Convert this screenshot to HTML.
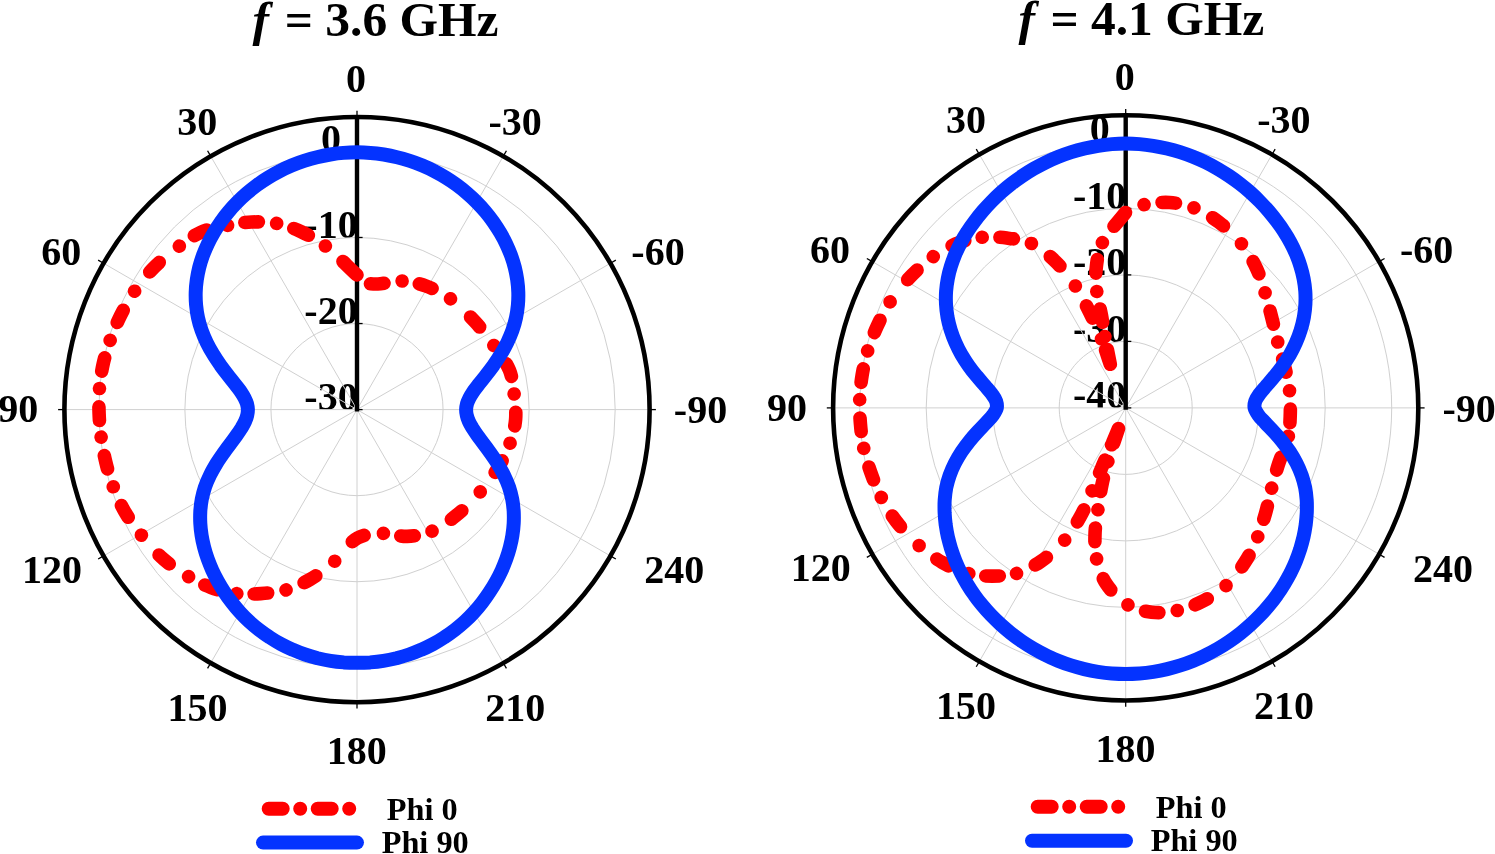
<!DOCTYPE html>
<html><head><meta charset="utf-8"><title>Radiation patterns</title>
<style>
html,body{margin:0;padding:0;background:#fff;}
body{width:1495px;height:854px;overflow:hidden;}
svg{display:block;font-family:"Liberation Serif",serif;font-weight:bold;font-size:40px;fill:#000;}
.t{font-size:49.5px}
.lg{font-size:32.3px}
</style></head><body>
<svg width="1495" height="854" viewBox="0 0 1495 854">
<rect width="1495" height="854" fill="#fff"/>
<text class="t" y="35.6"><tspan x="252.5" font-style="italic">f</tspan><tspan x="498.6" text-anchor="end"> = 3.6 GHz</tspan></text>
<text class="t" y="35.2"><tspan x="1018.5" font-style="italic">f</tspan><tspan x="1264.2" text-anchor="end"> = 4.1 GHz</tspan></text>
<g text-anchor="middle">
<text x="331.0" y="409.9">-30</text>
<text x="331.0" y="323.8">-20</text>
<text x="331.0" y="237.8">-10</text>
<text x="331.0" y="151.7">0</text>
</g>
<g fill="none" stroke="#d0d0d0" stroke-width="1">
<circle cx="357.0" cy="409.6" r="86.06"/>
<circle cx="357.0" cy="409.6" r="172.12"/>
<circle cx="357.0" cy="409.6" r="258.18"/>
<line x1="357.0" y1="409.6" x2="357.00" y2="117.00"/>
<line x1="357.0" y1="409.6" x2="503.30" y2="156.20"/>
<line x1="357.0" y1="409.6" x2="610.40" y2="263.30"/>
<line x1="357.0" y1="409.6" x2="649.60" y2="409.60"/>
<line x1="357.0" y1="409.6" x2="610.40" y2="555.90"/>
<line x1="357.0" y1="409.6" x2="503.30" y2="663.00"/>
<line x1="357.0" y1="409.6" x2="357.00" y2="702.20"/>
<line x1="357.0" y1="409.6" x2="210.70" y2="663.00"/>
<line x1="357.0" y1="409.6" x2="103.60" y2="555.90"/>
<line x1="357.0" y1="409.6" x2="64.40" y2="409.60"/>
<line x1="357.0" y1="409.6" x2="103.60" y2="263.30"/>
<line x1="357.0" y1="409.6" x2="210.70" y2="156.20"/>
</g>
<g stroke="#000" stroke-width="1.3">
<line x1="357.00" y1="117.00" x2="357.00" y2="110.70"/>
<line x1="503.30" y1="156.20" x2="506.45" y2="150.75"/>
<line x1="610.40" y1="263.30" x2="615.85" y2="260.15"/>
<line x1="649.60" y1="409.60" x2="655.90" y2="409.60"/>
<line x1="610.40" y1="555.90" x2="615.85" y2="559.05"/>
<line x1="503.30" y1="663.00" x2="506.45" y2="668.45"/>
<line x1="357.00" y1="702.20" x2="357.00" y2="708.50"/>
<line x1="210.70" y1="663.00" x2="207.55" y2="668.45"/>
<line x1="103.60" y1="555.90" x2="98.15" y2="559.05"/>
<line x1="64.40" y1="409.60" x2="58.10" y2="409.60"/>
<line x1="103.60" y1="263.30" x2="98.15" y2="260.15"/>
<line x1="210.70" y1="156.20" x2="207.55" y2="150.75"/>
<line x1="357.0" y1="409.60" x2="362.6" y2="409.60"/>
<line x1="357.0" y1="323.54" x2="362.6" y2="323.54"/>
<line x1="357.0" y1="237.48" x2="362.6" y2="237.48"/>
<line x1="357.0" y1="151.42" x2="362.6" y2="151.42"/>
</g>
<circle cx="357.0" cy="409.6" r="292.6" fill="none" stroke="#000" stroke-width="4.6"/>
<line x1="357.0" y1="411.4" x2="357.0" y2="117.0" stroke="#000" stroke-width="4.4"/>
<g text-anchor="middle">
<text x="356.1" y="91.9">0</text>
<text x="197.3" y="134.6">30</text>
<text x="515.1" y="134.6">-30</text>
<text x="61.2" y="264.8">60</text>
<text x="658.0" y="264.8">-60</text>
<text x="18.2" y="422.4">90</text>
<text x="700.5" y="423.4">-90</text>
<text x="52.0" y="583.1">120</text>
<text x="674.3" y="583.4">240</text>
<text x="197.4" y="721.0">150</text>
<text x="515.2" y="721.0">210</text>
<text x="356.8" y="764.1">180</text>
</g>
<path d="M357.0 275.0C346.5 265.3 335.6 253.6 325.4 246.0C317.1 239.9 309.5 235.5 301.2 231.7C293.2 228.0 285.0 225.0 276.7 223.4C268.5 221.8 259.9 221.7 251.7 222.0C243.6 222.3 235.8 223.8 227.6 225.4C218.8 227.2 208.7 228.8 200.5 232.4C192.7 235.8 186.6 240.8 179.4 246.1C171.3 252.1 162.0 259.4 154.5 267.0C147.1 274.4 140.5 282.7 134.7 291.1C129.1 299.2 124.4 307.8 120.2 316.2C116.3 324.2 113.1 332.1 110.2 340.2C107.4 348.1 104.9 356.2 103.1 364.3C101.3 372.3 100.2 380.3 99.5 388.4C98.8 396.7 98.8 405.3 99.1 413.5C99.4 421.5 100.0 429.1 101.1 437.0C102.2 445.3 103.8 453.8 105.8 462.1C107.8 470.4 110.1 478.5 113.2 486.6C116.4 494.9 120.0 503.4 124.6 511.3C129.3 519.5 135.0 527.2 141.3 535.0C148.0 543.3 155.7 552.4 163.8 559.4C171.5 566.1 180.2 571.7 188.4 576.5C195.9 580.9 203.1 584.7 211.0 587.5C219.1 590.4 228.1 592.6 236.6 593.6C244.7 594.6 252.6 594.2 260.7 593.6C269.0 593.0 277.7 592.3 285.8 590.0C294.1 587.6 302.1 584.0 309.9 579.5C318.3 574.6 326.7 568.2 334.5 561.4C342.6 554.4 348.8 542.6 357.5 538.0C365.2 533.9 374.7 533.6 383.1 533.4C391.2 533.2 399.2 536.7 407.2 536.4C415.4 536.1 423.8 534.5 431.7 531.3C440.3 527.8 448.6 521.6 456.4 515.3C464.7 508.7 472.9 500.4 480.0 492.2C486.9 484.3 493.4 475.6 498.5 467.1C503.2 459.4 507.0 451.6 509.9 443.6C512.7 435.8 514.9 427.7 515.6 419.5C516.3 411.3 515.2 402.6 514.2 394.4C513.2 386.2 512.6 378.1 509.5 370.3C506.2 361.9 499.7 353.8 494.1 345.9C488.4 337.8 482.4 329.8 475.4 322.2C468.0 314.2 459.5 305.3 450.9 299.1C443.1 293.5 434.6 289.1 426.3 286.1C418.5 283.3 410.6 281.4 402.6 281.0C394.5 280.6 384.6 283.7 377.8 284.0C373.2 284.2 369.9 283.7 366.0 283.5" fill="none" stroke="#ff0000" stroke-width="13.6" stroke-linecap="round" stroke-linejoin="round" stroke-dasharray="19.5 23.42 0.01 20.15 16.0 17.93 0.01 18.28 13.6 17.57 0.01 21.24 13.6 18.42 0.01 25.73 13.6 24.43 0.01 22.2 13.6 19.21 0.01 18.33 13.6 17.59 0.01 18.31 13.6 16.8 0.01 18.74 13.6 18.81 0.01 20.42 13.6 22.22 0.01 26.42 13.6 23.2 0.01 18.36 13.6 19.57 0.01 17.33 13.6 18.6 0.01 19.54 13.6 23.79 0.01 26.16 13.6 19.45 0.01 17.53 13.6 18.35 0.01 22.72 13.6 26.27 0.01 24.41 13.6 19.36 0.01 18.02 13.6 18.39 0.01 17.82 13.6 22.13 0.01 23.4 13.6 26.93 0.01 21.1 13.6 17.53 0.01 18.21 13.6 9999"/>
<path d="M357.0 152.3C352.5 152.3 348.0 152.5 343.5 152.9C339.1 153.2 334.6 153.8 330.2 154.5C325.8 155.2 321.4 156.1 317.0 157.2C312.7 158.2 308.4 159.5 304.1 160.9C299.9 162.2 295.7 163.8 291.6 165.5C287.5 167.2 283.5 169.1 279.5 171.2C275.6 173.2 271.7 175.4 268.0 177.7C264.2 180.0 260.6 182.5 257.0 185.1C253.5 187.7 250.1 190.4 246.8 193.3C243.5 196.1 240.3 199.1 237.3 202.2C234.2 205.3 231.3 208.5 228.6 211.8C225.8 215.1 223.2 218.5 220.7 222.0C218.3 225.5 215.9 229.1 213.8 232.7C211.6 236.4 209.6 240.1 207.8 243.9C206.0 247.7 204.4 251.6 202.9 255.5C201.5 259.5 200.2 263.5 199.2 267.5C198.2 271.6 197.4 275.7 196.8 279.8C196.2 284.0 195.8 288.2 195.7 292.4C195.6 296.6 195.7 300.9 196.1 305.1C196.5 309.3 197.1 313.6 198.0 317.8C198.9 322.1 200.1 326.3 201.6 330.4C203.1 334.6 204.9 338.7 206.8 342.7C208.8 346.8 211.0 350.7 213.3 354.4C215.6 358.2 218.1 361.8 220.5 365.3C222.9 368.6 225.4 371.9 227.8 375.0C230.1 378.0 232.5 380.8 234.6 383.6C236.6 386.2 238.7 388.7 240.4 391.1C241.9 393.4 243.4 395.6 244.5 397.8C245.5 399.8 246.4 401.8 247.0 403.8C247.5 405.7 247.8 407.7 247.9 409.6C247.9 411.5 247.7 413.4 247.2 415.4C246.8 417.4 246.0 419.4 245.1 421.4C244.2 423.5 242.9 425.7 241.6 427.9C240.1 430.3 238.5 432.7 236.7 435.2C234.8 437.9 232.7 440.6 230.6 443.5C228.3 446.5 225.9 449.7 223.6 453.0C221.2 456.4 218.7 459.9 216.5 463.5C214.3 467.2 212.0 471.1 210.1 475.0C208.2 478.9 206.4 483.0 205.0 487.0C203.7 491.0 202.6 495.1 201.8 499.2C201.0 503.2 200.6 507.3 200.3 511.3C200.1 515.4 200.1 519.4 200.3 523.4C200.5 527.5 201.0 531.5 201.6 535.4C202.2 539.4 203.1 543.4 204.1 547.3C205.1 551.2 206.3 555.1 207.7 558.9C209.1 562.7 210.6 566.5 212.3 570.3C214.0 574.0 215.9 577.7 217.9 581.4C219.9 585.0 222.1 588.6 224.4 592.1C226.7 595.7 229.2 599.1 231.8 602.4C234.4 605.8 237.1 609.1 240.0 612.2C242.9 615.4 245.9 618.4 249.1 621.4C252.3 624.3 255.6 627.1 259.0 629.8C262.4 632.4 265.9 635.0 269.6 637.3C273.2 639.7 277.0 642.0 280.8 644.0C284.7 646.1 288.6 648.0 292.7 649.7C296.7 651.5 300.8 653.1 305.0 654.5C309.1 655.9 313.4 657.1 317.6 658.2C321.9 659.2 326.2 660.1 330.6 660.8C335.0 661.5 339.4 662.0 343.8 662.4C348.2 662.7 352.6 662.8 357.0 662.8C361.4 662.8 365.8 662.7 370.2 662.4C374.6 662.0 379.0 661.5 383.4 660.8C387.8 660.1 392.1 659.2 396.4 658.2C400.6 657.1 404.9 655.9 409.0 654.5C413.2 653.1 417.3 651.5 421.3 649.7C425.4 648.0 429.3 646.1 433.2 644.0C437.0 642.0 440.8 639.7 444.4 637.3C448.1 635.0 451.6 632.4 455.0 629.8C458.4 627.1 461.7 624.3 464.9 621.4C468.1 618.4 471.1 615.4 474.0 612.2C476.9 609.1 479.6 605.8 482.2 602.4C484.8 599.1 487.3 595.7 489.6 592.1C491.9 588.6 494.1 585.0 496.1 581.4C498.1 577.7 500.0 574.0 501.7 570.3C503.4 566.5 504.9 562.7 506.3 558.9C507.7 555.1 508.9 551.2 509.9 547.3C510.9 543.4 511.8 539.4 512.4 535.4C513.0 531.5 513.5 527.5 513.7 523.4C513.9 519.4 513.9 515.4 513.7 511.3C513.4 507.3 513.0 503.2 512.2 499.2C511.4 495.1 510.3 491.0 509.0 487.0C507.6 483.0 505.8 478.9 503.9 475.0C502.0 471.1 499.7 467.2 497.5 463.5C495.3 459.9 492.8 456.4 490.4 453.0C488.1 449.7 485.7 446.5 483.4 443.5C481.3 440.6 479.2 437.9 477.3 435.2C475.5 432.7 473.9 430.3 472.4 427.9C471.1 425.7 469.8 423.5 468.9 421.4C468.0 419.4 467.2 417.4 466.8 415.4C466.3 413.4 466.1 411.5 466.1 409.6C466.2 407.7 466.5 405.7 467.0 403.8C467.6 401.8 468.5 399.8 469.5 397.8C470.6 395.6 472.1 393.4 473.6 391.1C475.3 388.7 477.4 386.2 479.4 383.6C481.5 380.8 483.9 378.0 486.2 375.0C488.6 371.9 491.1 368.6 493.5 365.3C495.9 361.8 498.4 358.2 500.7 354.4C503.0 350.7 505.2 346.8 507.2 342.7C509.1 338.7 510.9 334.6 512.4 330.4C513.9 326.3 515.1 322.1 516.0 317.8C516.9 313.6 517.5 309.3 517.9 305.1C518.3 300.9 518.4 296.6 518.3 292.4C518.2 288.2 517.8 284.0 517.2 279.8C516.6 275.7 515.8 271.6 514.8 267.5C513.8 263.5 512.5 259.5 511.1 255.5C509.6 251.6 508.0 247.7 506.2 243.9C504.4 240.1 502.4 236.4 500.2 232.7C498.1 229.1 495.7 225.5 493.3 222.0C490.8 218.5 488.2 215.1 485.4 211.8C482.7 208.5 479.8 205.3 476.7 202.2C473.7 199.1 470.5 196.1 467.2 193.3C463.9 190.4 460.5 187.7 457.0 185.1C453.4 182.5 449.8 180.0 446.0 177.7C442.3 175.4 438.4 173.2 434.5 171.2C430.5 169.1 426.5 167.2 422.4 165.5C418.3 163.8 414.1 162.2 409.9 160.9C405.6 159.5 401.3 158.2 397.0 157.2C392.6 156.1 388.2 155.2 383.8 154.5C379.4 153.8 374.9 153.2 370.5 152.9C366.0 152.5 361.5 152.3 357.0 152.3Z" fill="none" stroke="#0433ff" stroke-width="14" stroke-linejoin="round"/>
<g text-anchor="middle">
<text x="1099.7" y="408.2">-40</text>
<text x="1099.7" y="341.7">-30</text>
<text x="1099.7" y="275.2">-20</text>
<text x="1099.7" y="208.7">-10</text>
<text x="1099.7" y="142.2">0</text>
</g>
<g fill="none" stroke="#d0d0d0" stroke-width="1">
<circle cx="1125.7" cy="407.9" r="66.50"/>
<circle cx="1125.7" cy="407.9" r="133.00"/>
<circle cx="1125.7" cy="407.9" r="199.50"/>
<circle cx="1125.7" cy="407.9" r="266.00"/>
<line x1="1125.7" y1="407.9" x2="1125.70" y2="115.30"/>
<line x1="1125.7" y1="407.9" x2="1272.00" y2="154.50"/>
<line x1="1125.7" y1="407.9" x2="1379.10" y2="261.60"/>
<line x1="1125.7" y1="407.9" x2="1418.30" y2="407.90"/>
<line x1="1125.7" y1="407.9" x2="1379.10" y2="554.20"/>
<line x1="1125.7" y1="407.9" x2="1272.00" y2="661.30"/>
<line x1="1125.7" y1="407.9" x2="1125.70" y2="700.50"/>
<line x1="1125.7" y1="407.9" x2="979.40" y2="661.30"/>
<line x1="1125.7" y1="407.9" x2="872.30" y2="554.20"/>
<line x1="1125.7" y1="407.9" x2="833.10" y2="407.90"/>
<line x1="1125.7" y1="407.9" x2="872.30" y2="261.60"/>
<line x1="1125.7" y1="407.9" x2="979.40" y2="154.50"/>
</g>
<g stroke="#000" stroke-width="1.3">
<line x1="1125.70" y1="115.30" x2="1125.70" y2="109.00"/>
<line x1="1272.00" y1="154.50" x2="1275.15" y2="149.05"/>
<line x1="1379.10" y1="261.60" x2="1384.55" y2="258.45"/>
<line x1="1418.30" y1="407.90" x2="1424.60" y2="407.90"/>
<line x1="1379.10" y1="554.20" x2="1384.55" y2="557.35"/>
<line x1="1272.00" y1="661.30" x2="1275.15" y2="666.75"/>
<line x1="1125.70" y1="700.50" x2="1125.70" y2="706.80"/>
<line x1="979.40" y1="661.30" x2="976.25" y2="666.75"/>
<line x1="872.30" y1="554.20" x2="866.85" y2="557.35"/>
<line x1="833.10" y1="407.90" x2="826.80" y2="407.90"/>
<line x1="872.30" y1="261.60" x2="866.85" y2="258.45"/>
<line x1="979.40" y1="154.50" x2="976.25" y2="149.05"/>
<line x1="1125.7" y1="407.90" x2="1131.3" y2="407.90"/>
<line x1="1125.7" y1="341.40" x2="1131.3" y2="341.40"/>
<line x1="1125.7" y1="274.90" x2="1131.3" y2="274.90"/>
<line x1="1125.7" y1="208.40" x2="1131.3" y2="208.40"/>
<line x1="1125.7" y1="141.90" x2="1131.3" y2="141.90"/>
</g>
<circle cx="1125.7" cy="407.9" r="292.6" fill="none" stroke="#000" stroke-width="4.6"/>
<line x1="1125.7" y1="409.7" x2="1125.7" y2="115.3" stroke="#000" stroke-width="4.4"/>
<g text-anchor="middle">
<text x="1124.8" y="90.2">0</text>
<text x="966.0" y="132.9">30</text>
<text x="1283.8" y="132.9">-30</text>
<text x="829.9" y="263.1">60</text>
<text x="1426.7" y="263.1">-60</text>
<text x="786.9" y="420.7">90</text>
<text x="1469.2" y="421.7">-90</text>
<text x="820.7" y="581.4">120</text>
<text x="1443.0" y="581.7">240</text>
<text x="966.1" y="719.3">150</text>
<text x="1283.9" y="719.3">210</text>
<text x="1125.5" y="762.4">180</text>
</g>
<path d="M1125.5 212.5C1117.8 222.5 1107.2 232.7 1102.4 242.6C1098.5 250.6 1097.3 258.2 1096.4 266.3C1095.4 274.5 1095.9 283.2 1096.8 291.4C1097.7 299.6 1100.1 307.7 1101.5 315.5C1102.8 322.7 1103.6 329.0 1104.9 336.5C1106.4 345.1 1108.5 355.0 1110.3 364.3C1107.4 355.9 1104.9 347.5 1101.5 339.0C1098.0 330.1 1093.8 320.8 1089.5 312.0C1085.1 303.2 1081.0 294.3 1075.4 286.0C1069.6 277.4 1062.8 268.5 1055.3 261.3C1048.1 254.4 1039.9 247.4 1031.5 243.5C1023.7 239.9 1015.1 239.0 1006.8 238.0C998.7 237.0 990.4 236.5 982.3 237.3C974.2 238.1 966.3 239.9 958.4 242.9C949.9 246.1 941.1 251.2 933.4 256.5C925.8 261.8 919.1 267.8 912.3 274.8C904.7 282.6 896.2 292.6 890.2 301.7C884.8 309.8 881.0 317.9 877.2 326.2C873.5 334.3 870.2 342.4 867.7 350.7C865.2 358.8 863.4 367.2 862.1 375.4C860.8 383.4 860.0 391.3 859.7 399.4C859.4 407.7 859.8 416.3 860.5 424.5C861.2 432.5 862.0 440.2 863.7 448.1C865.5 456.4 868.2 465.0 871.1 473.2C874.0 481.4 877.1 489.3 881.2 497.2C885.4 505.4 890.2 513.6 896.2 521.3C902.6 529.7 910.9 538.4 918.9 545.4C926.4 552.0 934.1 557.8 942.4 562.5C950.6 567.1 959.8 571.3 968.5 573.5C976.4 575.6 984.3 576.1 992.2 576.1C1000.2 576.1 1008.4 575.8 1016.2 573.5C1024.5 571.1 1032.9 566.7 1040.7 561.5C1049.1 555.9 1057.7 548.1 1064.4 540.4C1070.8 533.0 1075.9 524.6 1080.5 516.3C1085.0 508.2 1088.3 499.5 1091.9 491.2C1095.4 483.1 1098.7 474.8 1102.0 467.0C1105.2 459.5 1108.5 452.0 1111.4 445.2C1113.9 439.3 1116.1 434.1 1118.5 428.5C1115.0 439.3 1110.9 451.0 1108.0 461.0C1105.6 469.4 1103.7 476.5 1102.0 484.5C1100.3 492.6 1099.2 501.0 1098.0 509.3C1096.8 517.6 1095.2 526.1 1095.0 534.4C1094.8 542.5 1094.8 550.4 1096.5 558.4C1098.4 567.0 1101.4 576.5 1106.4 584.1C1111.6 592.0 1119.6 599.9 1127.5 604.6C1134.8 609.0 1143.4 611.2 1151.6 612.2C1159.8 613.2 1168.5 612.3 1176.7 610.6C1184.9 608.9 1192.9 606.1 1200.8 602.2C1209.3 598.0 1218.3 592.6 1225.6 586.0C1233.1 579.2 1239.8 570.2 1245.2 561.8C1250.3 553.9 1254.1 545.6 1257.5 537.4C1260.8 529.5 1263.2 521.4 1265.5 513.3C1267.8 505.2 1269.3 497.0 1271.5 488.8C1273.7 480.6 1275.8 472.5 1278.5 464.1C1281.3 455.2 1286.3 445.5 1288.2 437.0C1289.8 429.8 1289.9 423.7 1290.2 416.5C1290.5 408.6 1290.5 399.7 1289.6 391.4C1288.7 383.0 1286.6 374.5 1284.6 366.3C1282.7 358.3 1280.0 350.7 1277.9 342.7C1275.8 334.6 1274.0 326.4 1271.9 318.2C1269.8 310.0 1267.8 301.7 1265.3 293.5C1262.7 285.1 1260.3 276.4 1256.5 268.3C1252.6 260.0 1247.9 251.8 1241.9 244.3C1235.5 236.3 1227.0 228.4 1218.8 222.2C1211.2 216.4 1203.1 211.4 1194.7 208.1C1186.7 204.9 1178.0 203.1 1169.6 202.5C1161.4 201.9 1151.1 203.4 1145.0 204.5C1141.2 205.2 1139.0 206.2 1136.0 207.0" fill="none" stroke="#ff0000" stroke-width="13.6" stroke-linecap="round" stroke-linejoin="round" stroke-dasharray="18 20.03 0.01 17.77 13.6 18.36 0.01 17.75 13.6 14.47 0.01 13.31 30.0 11.79 0.01 22.74 13.6 22.8 0.01 25.09 13.6 23.05 0.01 18.61 13.6 17.76 0.01 17.81 13.6 21.73 0.01 21.16 13.6 28.06 0.01 20.96 13.6 19.5 0.01 18.54 13.6 17.34 0.01 18.32 13.6 17.03 0.01 19.38 13.6 19.26 0.01 21.62 13.6 26.36 0.01 22.31 13.6 21.6 0.01 17.1 13.6 17.43 0.01 20.58 13.6 25.02 0.01 22.23 13.6 20.78 0.01 19.41 13.6 16.94 0.01 3.14 30.0 19.16 0.01 17.45 13.6 18.33 0.01 18.49 13.6 17.31 0.01 20.88 13.6 22.85 0.01 18.65 13.6 18.46 0.01 18.78 13.6 22.91 0.01 24.42 13.6 20.56 0.01 18.6 13.6 18.43 0.01 18.87 13.6 22.01 0.01 13.82 13.6 18.33 0.01 18.8 13.6 17.74 0.01 18.41 13.6 18.77 0.01 19.91 13.6 21.36 0.01 25.24 13.6 21.21 0.01 19.01 13.6 17.94 0.01 9999"/>
<path d="M1125.7 143.5C1121.1 143.5 1116.5 143.7 1111.9 144.1C1107.3 144.5 1102.7 145.1 1098.2 145.8C1093.6 146.5 1089.1 147.4 1084.6 148.5C1080.1 149.6 1075.7 150.8 1071.3 152.2C1067.0 153.6 1062.7 155.1 1058.4 156.8C1054.2 158.5 1050.0 160.4 1045.9 162.3C1041.8 164.3 1037.8 166.5 1033.9 168.7C1030.0 171.0 1026.1 173.4 1022.4 175.9C1018.7 178.4 1015.0 181.0 1011.5 183.8C1008.0 186.5 1004.5 189.4 1001.2 192.3C997.9 195.3 994.7 198.3 991.6 201.5C988.6 204.6 985.6 207.8 982.7 211.1C979.9 214.4 977.2 217.8 974.6 221.3C972.0 224.7 969.5 228.2 967.2 231.9C964.9 235.4 962.7 239.1 960.7 242.9C958.7 246.6 956.9 250.5 955.2 254.4C953.6 258.3 952.1 262.3 950.9 266.3C949.6 270.4 948.6 274.5 947.8 278.6C947.0 282.8 946.4 287.0 946.1 291.3C945.8 295.5 945.8 299.9 946.0 304.1C946.2 308.5 946.8 312.8 947.5 317.1C948.3 321.4 949.4 325.8 950.7 330.0C952.0 334.2 953.6 338.4 955.4 342.5C957.2 346.6 959.2 350.6 961.4 354.5C963.7 358.4 966.1 362.2 968.7 365.8C971.2 369.4 974.0 372.9 976.8 376.2C979.4 379.5 982.3 382.6 984.9 385.6C987.2 388.4 989.8 391.1 991.7 393.8C993.4 396.3 995.3 398.6 996.1 401.1C996.8 403.3 997.2 405.7 996.8 407.9C996.3 410.3 994.7 412.6 993.2 414.8C991.4 417.5 988.8 419.9 986.4 422.5C983.8 425.4 980.8 428.3 978.1 431.3C975.2 434.4 972.2 437.7 969.5 441.1C966.7 444.6 964.0 448.2 961.5 451.9C959.1 455.6 956.8 459.5 954.8 463.4C952.8 467.3 951.1 471.4 949.6 475.5C948.2 479.5 947.1 483.7 946.2 487.8C945.4 491.9 945.0 496.0 944.7 500.1C944.4 504.2 944.5 508.3 944.6 512.4C944.8 516.5 945.2 520.7 945.7 524.8C946.3 528.9 947.0 533.0 947.9 537.0C948.9 541.1 950.0 545.2 951.2 549.2C952.5 553.2 953.9 557.2 955.5 561.1C957.1 565.1 958.9 568.9 960.8 572.8C962.8 576.6 964.9 580.4 967.1 584.0C969.3 587.7 971.7 591.4 974.3 594.9C976.8 598.5 979.5 601.9 982.3 605.3C985.1 608.7 988.0 612.0 991.1 615.2C994.2 618.4 997.4 621.5 1000.7 624.5C1004.0 627.5 1007.4 630.4 1010.9 633.2C1014.4 636.0 1018.1 638.7 1021.8 641.2C1025.6 643.8 1029.4 646.2 1033.3 648.5C1037.3 650.8 1041.3 653.0 1045.4 655.0C1049.5 657.1 1053.7 658.9 1058.0 660.7C1062.2 662.4 1066.6 664.0 1071.0 665.4C1075.4 666.8 1079.8 668.0 1084.3 669.1C1088.8 670.2 1093.4 671.1 1098.0 671.8C1102.5 672.5 1107.2 673.1 1111.8 673.5C1116.4 673.8 1121.1 674.0 1125.7 674.0C1130.3 674.0 1135.0 673.8 1139.6 673.5C1144.2 673.1 1148.9 672.5 1153.4 671.8C1158.0 671.1 1162.6 670.2 1167.1 669.1C1171.6 668.0 1176.0 666.8 1180.4 665.4C1184.8 664.0 1189.2 662.4 1193.4 660.7C1197.7 658.9 1201.9 657.1 1206.0 655.0C1210.1 653.0 1214.1 650.8 1218.1 648.5C1222.0 646.2 1225.8 643.8 1229.6 641.2C1233.3 638.7 1237.0 636.0 1240.5 633.2C1244.0 630.4 1247.4 627.5 1250.7 624.5C1254.0 621.5 1257.2 618.4 1260.3 615.2C1263.4 612.0 1266.3 608.7 1269.1 605.3C1271.9 601.9 1274.6 598.5 1277.1 594.9C1279.7 591.4 1282.1 587.7 1284.3 584.0C1286.5 580.4 1288.6 576.6 1290.6 572.8C1292.5 568.9 1294.3 565.1 1295.9 561.1C1297.5 557.2 1298.9 553.2 1300.2 549.2C1301.4 545.2 1302.5 541.1 1303.5 537.0C1304.4 533.0 1305.1 528.9 1305.7 524.8C1306.2 520.7 1306.6 516.5 1306.8 512.4C1306.9 508.3 1307.0 504.2 1306.7 500.1C1306.4 496.0 1306.0 491.9 1305.2 487.8C1304.3 483.7 1303.2 479.5 1301.8 475.5C1300.3 471.4 1298.6 467.3 1296.6 463.4C1294.6 459.5 1292.3 455.6 1289.9 451.9C1287.4 448.2 1284.7 444.6 1281.9 441.1C1279.2 437.7 1276.2 434.4 1273.3 431.3C1270.6 428.3 1267.6 425.4 1265.0 422.5C1262.6 419.9 1260.0 417.5 1258.2 414.8C1256.7 412.6 1255.1 410.3 1254.6 407.9C1254.2 405.7 1254.6 403.3 1255.3 401.1C1256.1 398.6 1258.0 396.3 1259.7 393.8C1261.6 391.1 1264.2 388.4 1266.5 385.6C1269.1 382.6 1272.0 379.5 1274.6 376.2C1277.4 372.9 1280.2 369.4 1282.7 365.8C1285.3 362.2 1287.7 358.4 1290.0 354.5C1292.2 350.6 1294.2 346.6 1296.0 342.5C1297.8 338.4 1299.4 334.2 1300.7 330.0C1302.0 325.8 1303.1 321.4 1303.9 317.1C1304.6 312.8 1305.2 308.5 1305.4 304.1C1305.6 299.9 1305.6 295.5 1305.3 291.3C1305.0 287.0 1304.4 282.8 1303.6 278.6C1302.8 274.5 1301.8 270.4 1300.5 266.3C1299.3 262.3 1297.8 258.3 1296.2 254.4C1294.5 250.5 1292.7 246.6 1290.7 242.9C1288.7 239.1 1286.5 235.4 1284.2 231.9C1281.9 228.2 1279.4 224.7 1276.8 221.3C1274.2 217.8 1271.5 214.4 1268.7 211.1C1265.8 207.8 1262.8 204.6 1259.8 201.5C1256.7 198.3 1253.5 195.3 1250.2 192.3C1246.9 189.4 1243.4 186.5 1239.9 183.8C1236.4 181.0 1232.7 178.4 1229.0 175.9C1225.3 173.4 1221.4 171.0 1217.5 168.7C1213.6 166.5 1209.6 164.3 1205.5 162.3C1201.4 160.4 1197.2 158.5 1193.0 156.8C1188.7 155.1 1184.4 153.6 1180.1 152.2C1175.7 150.8 1171.3 149.6 1166.8 148.5C1162.3 147.4 1157.8 146.5 1153.2 145.8C1148.7 145.1 1144.1 144.5 1139.5 144.1C1134.9 143.7 1130.3 143.5 1125.7 143.5Z" fill="none" stroke="#0433ff" stroke-width="14" stroke-linejoin="round"/>
<line x1="268.7" y1="808.7" x2="350.0" y2="808.7" stroke="#ff0000" stroke-width="14" stroke-linecap="round" stroke-dasharray="14 17.5 0.01 17.5"/>
<line x1="263.0" y1="842.6" x2="357.0" y2="842.6" stroke="#0433ff" stroke-width="14" stroke-linecap="round"/>
<text class="lg" x="422.2" y="819.7" text-anchor="middle">Phi 0</text>
<text class="lg" x="425.2" y="853.2" text-anchor="middle">Phi 90</text>
<line x1="1037.7" y1="806.7" x2="1119.0" y2="806.7" stroke="#ff0000" stroke-width="14" stroke-linecap="round" stroke-dasharray="14 17.5 0.01 17.5"/>
<line x1="1032.0" y1="840.7" x2="1126.0" y2="840.7" stroke="#0433ff" stroke-width="14" stroke-linecap="round"/>
<text class="lg" x="1191.2" y="817.7" text-anchor="middle">Phi 0</text>
<text class="lg" x="1194.2" y="851.3" text-anchor="middle">Phi 90</text>
</svg></body></html>
